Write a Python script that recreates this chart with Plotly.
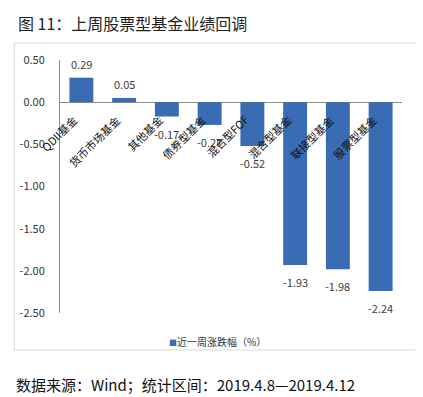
import plotly.graph_objects as go

categories = ["QDII基金", "货币市场基金", "其他基金", "债券型基金", "混合型FOF", "混合型基金", "联接型基金", "股票型基金"]
values = [0.29, 0.05, -0.17, -0.27, -0.52, -1.93, -1.98, -2.24]
series_name = "近一周涨跌幅（%）"
tick_vals = [0.5, 0.0, -0.5, -1.0, -1.5, -2.0, -2.5]
tick_text = ["0.50", "0.00", "-0.50", "-1.00", "-1.50", "-2.00", "-2.50"]

# page has an 8px body margin; work in page pixels and convert
OFF = 8
W, H = 423 - OFF, 397 - OFF
PL, PR, PT, PB = 58, 402, 60, 313  # plot area in page pixels
L, T = PL - OFF, PT - OFF
R = W - (PR - OFF)
B = H - (PB - OFF)
pw, ph = PR - PL, PB - PT

def px(x):
    return (x - PL) / pw

def py(y):
    return (PB - y) / ph

FONT = "Noto Sans CJK SC"
BAR = "#3a6cb4"

fig = go.Figure()
fig.add_trace(go.Bar(
    x=categories, y=values, name=series_name,
    marker=dict(color=BAR, line=dict(width=0)),
    width=0.56,
    showlegend=False,
))

annotations = []
# value labels
for c, v in zip(categories, values):
    annotations.append(dict(
        x=c, y=v, xref="x", yref="y", text=f"{v:.2f}", showarrow=False,
        xanchor="center", yanchor="bottom" if v >= 0 else "top",
        yshift=4 if v >= 0 else -7,
        font=dict(family=FONT, size=11, color="#404040"),
    ))
# category labels along the zero line
for c in categories:
    annotations.append(dict(
        x=c, y=0, xref="x", yref="y", text=c, showarrow=False,
        textangle=-45, xanchor="right", yanchor="top",
        xshift=2, yshift=-7,
        font=dict(family=FONT, size=11, color="#111111"),
    ))

annotations.append(dict(
    x=px(14), y=py(23), xref="paper", yref="paper", xanchor="left", yanchor="middle",
    text="图 11：上周股票型基金业绩回调", showarrow=False,
    font=dict(family=FONT, size=16, color="#222222"),
))
annotations.append(dict(
    x=px(12), y=py(384), xref="paper", yref="paper", xanchor="left", yanchor="middle",
    text="数据来源：Wind；统计区间：2019.4.8—2019.4.12", showarrow=False,
    font=dict(family=FONT, size=15, color="#111111"),
))
annotations.append(dict(
    x=px(216), y=py(341), xref="paper", yref="paper", xanchor="center", yanchor="middle",
    text=f"<span style='color:{BAR};font-size:8px'>■</span>{series_name}", showarrow=False,
    font=dict(family=FONT, size=10, color="#333333"),
))

fig.update_layout(
    width=W, height=H,
    margin=dict(l=L, r=R, t=T, b=B, pad=0),
    paper_bgcolor="white", plot_bgcolor="white",
    showlegend=False,
    xaxis=dict(showticklabels=False, showline=False, showgrid=False, zeroline=False,
               ticks="", range=[-0.5, len(categories) - 0.5]),
    yaxis=dict(range=[-2.5, 0.5], tickvals=tick_vals, ticktext=tick_text,
               showgrid=False, showline=True, linecolor="#8c8c8c", linewidth=1,
               zeroline=True, zerolinecolor="#8c8c8c", zerolinewidth=1,
               ticks="outside", ticklen=12, tickcolor="rgba(0,0,0,0)",
               tickfont=dict(family=FONT, size=11, color="#333333")),
    annotations=annotations,
    shapes=[dict(type="rect", xref="paper", yref="paper",
                 x0=px(12), x1=px(419), y0=py(350), y1=py(43),
                 line=dict(color="#d9d9d9", width=1), fillcolor="rgba(0,0,0,0)", layer="below")],
)

fig.write_html("out.html")
